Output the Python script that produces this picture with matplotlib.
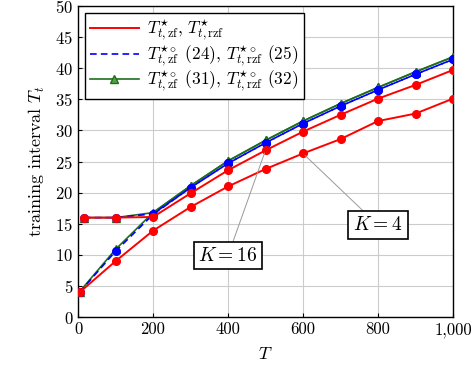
import matplotlib
matplotlib.use("Agg")
import matplotlib.pyplot as plt

plt.rcParams.update({
    "font.family": "serif",
    "font.serif": ["cmr10", "DejaVu Serif"],
    "mathtext.fontset": "cm",
    "axes.unicode_minus": False,
    "axes.formatter.use_mathtext": True,
    "font.size": 12,
})

# T values (curves start at T = K)
T_k4 = [4, 100, 200, 300, 400, 500, 600, 700, 800, 900, 1000]
T_k16 = [16, 100, 200, 300, 400, 500, 600, 700, 800, 900, 1000]

# K = 4
red_k4 = [4.0, 9.0, 13.9, 17.7, 21.0, 23.8, 26.3, 28.6, 31.5, 32.7, 35.1]
blue_k4 = [4.0, 10.6, 16.5, 20.8, 24.7, 28.0, 31.1, 33.9, 36.5, 39.0, 41.4]
green_k4 = [4.1, 10.9, 16.8, 21.1, 25.1, 28.4, 31.5, 34.3, 36.9, 39.4, 41.8]

# K = 16
red_k16 = [16.0, 16.0, 16.1, 19.9, 23.6, 26.8, 29.8, 32.5, 35.1, 37.3, 39.7]
blue_k16 = [16.0, 16.0, 16.6, 20.8, 24.7, 28.0, 31.1, 33.9, 36.5, 39.0, 41.4]
green_k16 = [16.0, 16.0, 16.8, 21.1, 25.1, 28.4, 31.5, 34.3, 36.9, 39.4, 41.8]

xticks = [0, 200, 400, 600, 800, 1000]
xticklabels = ["0", "200", "400", "600", "800", "1,000"]
yticks = [0, 5, 10, 15, 20, 25, 30, 35, 40, 45, 50]

RED, BLUE = "#ff0000", "#0000ff"
GREEN, GREEN_FACE = "#1f6e1f", "#4fa83d"

fig = plt.figure(figsize=(4.74, 3.66), dpi=100)
ax = fig.add_axes([0.1646, 0.1331, 0.7911, 0.851])

for T, g in [(T_k4, green_k4), (T_k16, green_k16)]:
    ax.plot(T, g, "-", color=GREEN, lw=1.2, marker="^", ms=5.5,
            mfc=GREEN_FACE, mec=GREEN, mew=1.0, zorder=3)
for T, b in [(T_k4, blue_k4), (T_k16, blue_k16)]:
    ax.plot(T, b, "--", color=BLUE, lw=1.2, marker="o", ms=5.5,
            mfc=BLUE, mec=BLUE, dashes=(4, 2.5), zorder=4)
for T, r in [(T_k4, red_k4), (T_k16, red_k16)]:
    ax.plot(T, r, "-", color=RED, lw=1.4, marker="o", ms=5.5,
            mfc=RED, mec=RED, zorder=5)

# legend proxies
h1, = ax.plot([], [], "-", color=RED, lw=1.4)
h2, = ax.plot([], [], "--", color=BLUE, lw=1.2, dashes=(4, 2.5))
h3, = ax.plot([], [], "-", color=GREEN, lw=1.2, marker="^", ms=5.5,
              mfc=GREEN_FACE, mec=GREEN)
leg = ax.legend([h1, h2, h3],
                [r"$T^{\star}_{t,\mathrm{zf}}$, $T^{\star}_{t,\mathrm{rzf}}$",
                 r"$T^{\star\circ}_{t,\mathrm{zf}}$ (24), $T^{\star\circ}_{t,\mathrm{rzf}}$ (25)",
                 r"$T^{\star\circ}_{t,\mathrm{zf}}$ (31), $T^{\star\circ}_{t,\mathrm{rzf}}$ (32)"],
                loc="upper left", fontsize=12.5, fancybox=False, framealpha=1,
                edgecolor="black", borderaxespad=0.4, handlelength=2.8,
                labelspacing=0.0, borderpad=0.3, handletextpad=0.5)
leg.get_frame().set_linewidth(1.0)
leg.set_zorder(10)

box = dict(boxstyle="square,pad=0.25", facecolor="white", edgecolor="black", linewidth=1.2)
line = dict(arrowstyle="-", color="#999999", lw=0.7, shrinkA=0, shrinkB=2)
ax.annotate(r"$K=16$", xy=(500, 26.8), xytext=(400, 9.9), fontsize=14,
            ha="center", va="center", bbox=box, arrowprops=line, zorder=8)
ax.annotate(r"$K=4$", xy=(600, 26.3), xytext=(800, 14.8), fontsize=14,
            ha="center", va="center", bbox=box, arrowprops=line, zorder=8)

ax.set_xlim(0, 1000)
ax.set_ylim(0, 50)
ax.set_xticks(xticks)
ax.set_xticklabels(xticklabels)
ax.set_yticks(yticks)
ax.grid(True, color="#cccccc", lw=0.8)
ax.set_axisbelow(True)
ax.tick_params(direction="in", length=3, labelsize=12)
for s in ax.spines.values():
    s.set_linewidth(1.0)

ax.set_xlabel(r"$T$", fontsize=13, labelpad=6)
ax.set_ylabel(r"training interval $T_t$", fontsize=13, labelpad=6)

fig.savefig("out.png", dpi=100)
